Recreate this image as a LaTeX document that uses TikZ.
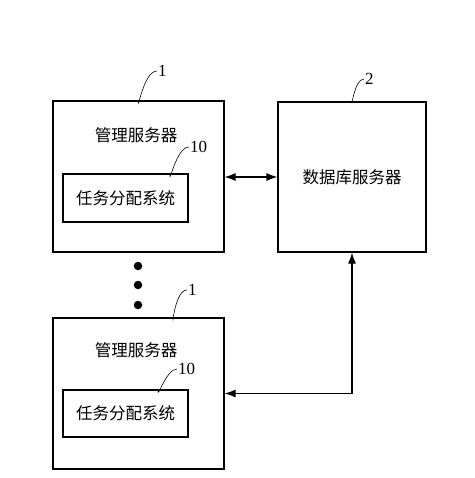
\documentclass[tikz,border=0pt]{standalone}
\usepackage{fontspec}
\setmainfont{Liberation Serif}
\newfontfamily\cjk{Noto Sans CJK SC}
\usetikzlibrary{arrows.meta}
\tikzset{
  box/.style={draw, line width=1.2pt, inner sep=0pt},
  txt/.style={font=\cjk\fontsize{16.5}{18}\selectfont},
  num/.style={font=\fontsize{17}{19}\selectfont, inner sep=1pt},
  leader/.style={draw, line width=0.6pt},
  link/.style={line width=1.2pt, {Latex[length=11pt,width=8pt]}-{Latex[length=11pt,width=8pt]}},
}
\begin{document}
\begin{tikzpicture}[x=1pt,y=-1pt]
\useasboundingbox (0,0) rectangle (474,478);
% boxes
\node[box, minimum width=171pt, minimum height=151pt] (mgr1) at (138.5,176.5){};
\node[box, minimum width=148pt, minimum height=150pt, txt] (db) at (352,177){数据库服务器};
\node[box, minimum width=171pt, minimum height=151pt] (mgr2) at (138.5,393.5){};
\node[box, minimum width=125pt, minimum height=48pt, txt] (sys1) at (125.5,198){任务分配系统};
\node[box, minimum width=125pt, minimum height=47pt, txt] (sys2) at (125.5,413.5){任务分配系统};
\node[txt] (name1) at (136,135){管理服务器};
\node[txt] (name2) at (136,350){管理服务器};
% dots
\foreach \i/\y in {1/266,2/285,3/305}
  \node[circle, fill, minimum size=8.5pt, inner sep=0pt] (dot\i) at (138,\y){};
% reference numbers
\node[num, anchor=west] (lbl1) at (157,71){1};
\node[num, anchor=west] (lbl2) at (364,79){2};
\node[num, anchor=west] (lbl3) at (189,147){10};
\node[num, anchor=west] (lbl4) at (187,290){1};
\node[num, anchor=west] (lbl5) at (177,369){10};
\coordinate (foot1) at (mgr1.north);
\coordinate (foot2) at (db.north);
\coordinate (foot3) at (170,174);
\coordinate (foot4) at (173,318);
\coordinate (foot5) at (158,390);
\foreach \i in {1,...,5}
  \draw[leader] (foot\i) to[out=-95,in=180] (lbl\i.west);
% connections
\draw[link] (mgr1.east |- db.west) -- (db.west);
\draw[link] (db.south) |- (mgr2.east);
\end{tikzpicture}
\end{document}
